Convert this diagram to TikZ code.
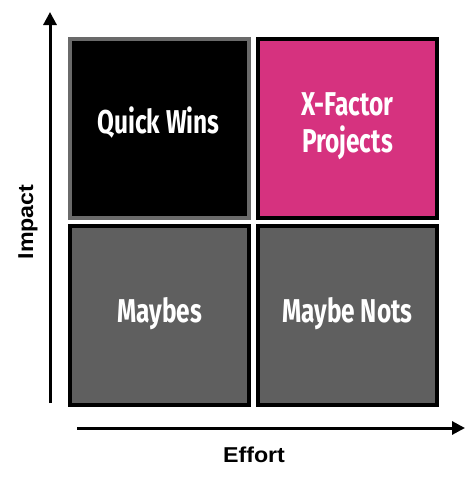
\documentclass[tikz,border=0pt]{standalone}
\usepackage{fontspec}
\setmainfont{Liberation Sans}
\newfontfamily\axfont[FakeStretch=1.08]{Liberation Sans}
\newfontfamily\boxfont[FakeStretch=0.74]{Fira Sans}
\usetikzlibrary{arrows.meta}
\definecolor{xpink}{HTML}{D6327F}
\definecolor{dgray}{HTML}{5F5F5F}
\definecolor{bgray}{HTML}{6A6A6A}
\tikzset{
  quad/.style={draw=black, line width=4pt, minimum width=179pt, minimum height=179pt, inner sep=0pt, outer sep=0pt},
  lbl/.style={text=white, font=\boxfont\bfseries\fontsize{33}{38}\selectfont, anchor=base, inner sep=0pt},
  axis/.style={line width=3pt, -{Triangle[length=13pt,width=13pt]}},
  axlbl/.style={font=\axfont\bfseries\fontsize{21.5}{24}\selectfont, anchor=base, inner sep=0pt}
}
\begin{document}
\begin{tikzpicture}[x=1pt,y=-1pt]
\useasboundingbox (0,0) rectangle (474,479);
\node[quad, draw=bgray, fill=black] (qw) at (159.5,128) {};
\node[quad, fill=xpink] (xf) at (347.5,128) {};
\node[quad, fill=dgray] (mb) at (159.5,315.5) {};
\node[quad, fill=dgray] (mn) at (347.5,315.5) {};
\node[lbl] (tqw) at (158.5,133.5) {Quick Wins};
\node[lbl] (txf1) at (347.5,115) {X-Factor};
\node[lbl] (txf2) at (347.5,152.5) {Projects};
\node[lbl] (tmb) at (159.5,322.5) {Maybes};
\node[lbl] (tmn) at (347.5,322.5) {Maybe Nots};
\coordinate (vs) at (50,403);
\coordinate (ve) at (50,12);
\coordinate (hs) at (77,428);
\coordinate (he) at (465,428);
\draw[axis] (vs) -- (ve);
\draw[axis] (hs) -- (he);
\node[axlbl, rotate=90] (imp) at (33,222) {Impact};
\node[axlbl] (eff) at (254,462) {Effort};
\end{tikzpicture}
\end{document}
